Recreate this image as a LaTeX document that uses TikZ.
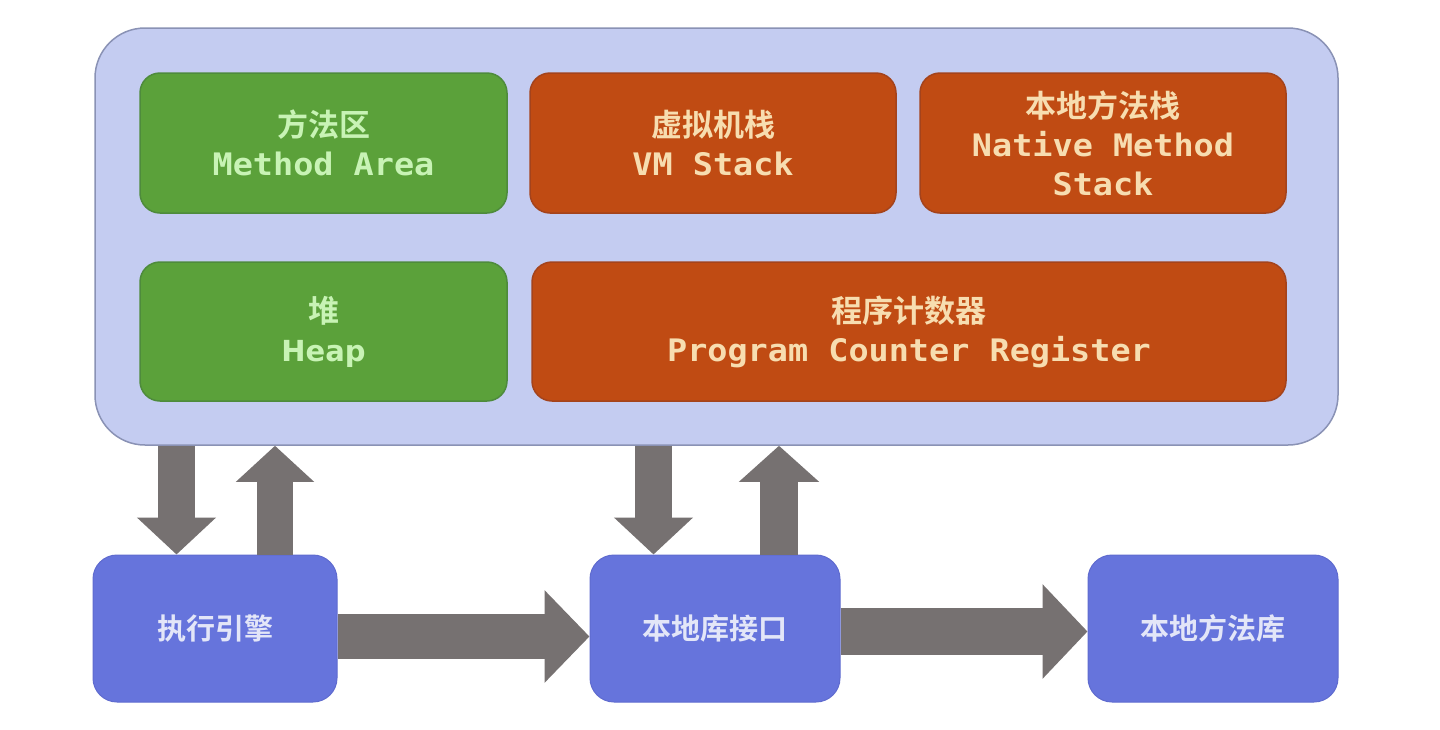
\documentclass[tikz,border=0pt]{standalone}
\usepackage{fontspec}
\newfontfamily\cjk[BoldFont={Noto Sans CJK SC Bold}]{Noto Sans CJK SC}
\newfontfamily\mono[FakeStretch=1.08]{DejaVu Sans Mono}
\newfontfamily\sansf{DejaVu Sans}
\usetikzlibrary{arrows.meta}
\definecolor{outerfill}{HTML}{C4CCF1}
\definecolor{outerline}{HTML}{8A92B5}
\definecolor{gfill}{HTML}{5BA13A}
\definecolor{gline}{HTML}{4E8B3C}
\definecolor{gtext}{HTML}{C8F3B5}
\definecolor{ofill}{HTML}{C04B13}
\definecolor{oline}{HTML}{A4431C}
\definecolor{otext}{HTML}{F7DDB0}
\definecolor{bfill}{HTML}{6674DC}
\definecolor{bline}{HTML}{5F6BCF}
\definecolor{btext}{HTML}{E3E6F8}
\definecolor{arrowgray}{HTML}{767171}
\tikzset{
  outerbox/.style={draw=outerline, fill=outerfill, line width=1.5pt, rounded corners=50pt, inner sep=0pt},
  areabox/.style={rounded corners=20pt, line width=1.5pt, inner sep=0pt, align=center, font=\fontsize{31}{39}\selectfont\bfseries},
  greenbox/.style={areabox, draw=gline, fill=gfill, text=gtext},
  orangebox/.style={areabox, draw=oline, fill=ofill, text=otext},
  bluebox/.style={rounded corners=24pt, line width=1pt, inner sep=0pt, draw=bline, fill=bfill, text=btext, font=\fontsize{29}{34}\selectfont\cjk\bfseries},
  barrow/.style={draw=arrowgray, line cap=butt}
}
\begin{document}
\begin{tikzpicture}[x=1pt,y=-1pt]
\fill[white] (0,0) rectangle (1440,729);
\useasboundingbox (0,0) rectangle (1440,729);

\node[outerbox, minimum width=1243pt, minimum height=417pt] (outer) at (716.5,236.5) {};

\node[greenbox, minimum width=367pt, minimum height=140pt] (ma) at (323.5,143) {{\cjk\bfseries 方法区}\\{\mono\bfseries Method Area}};
\node[orangebox, minimum width=366pt, minimum height=140pt] (vm) at (713,143) {{\cjk\bfseries 虚拟机栈}\\{\mono\bfseries VM Stack}};
\node[orangebox, minimum width=366pt, minimum height=140pt] (nm) at (1103,143) {{\cjk\bfseries 本地方法栈}\\{\mono\bfseries Native Method}\\{\mono\bfseries Stack}};
\node[greenbox, minimum width=367pt, minimum height=139pt] (heap) at (323.5,331.5) {{\cjk\bfseries 堆}\\{\sansf\bfseries\fontsize{29}{39}\selectfont Heap}};
\node[orangebox, minimum width=754pt, minimum height=139pt] (pcr) at (909,331.5) {{\cjk\bfseries 程序计数器}\\{\mono\bfseries Program Counter Register}};

\node[bluebox, minimum width=244pt, minimum height=147pt] (engine) at (215,628.5) {执行引擎};
\node[bluebox, minimum width=250pt, minimum height=147pt] (jni) at (715,628.5) {本地库接口};
\node[bluebox, minimum width=250pt, minimum height=147pt] (lib) at (1213,628.5) {本地方法库};

\draw[barrow, line width=37pt, -{Triangle[width=77pt,length=37pt]}] (176.5,0 |- outer.south) -- (176.5,0 |- engine.north);
\draw[barrow, line width=36pt, -{Triangle[width=76pt,length=36pt]}] (275,0 |- engine.north) -- (275,0 |- outer.south);
\draw[barrow, line width=37pt, -{Triangle[width=77pt,length=37pt]}] (653.5,0 |- outer.south) -- (653.5,0 |- jni.north);
\draw[barrow, line width=38pt, -{Triangle[width=78pt,length=36pt]}] (779,0 |- jni.north) -- (779,0 |- outer.south);

\draw[barrow, line width=45pt, -{Triangle[width=90pt,length=45pt]}] (engine.east |- 0,636.5) -- (jni.west |- 0,636.5);
\draw[barrow, line width=47pt, -{Triangle[width=92pt,length=45pt]}] (jni.east |- 0,631.5) -- (lib.west |- 0,631.5);
\end{tikzpicture}
\end{document}
